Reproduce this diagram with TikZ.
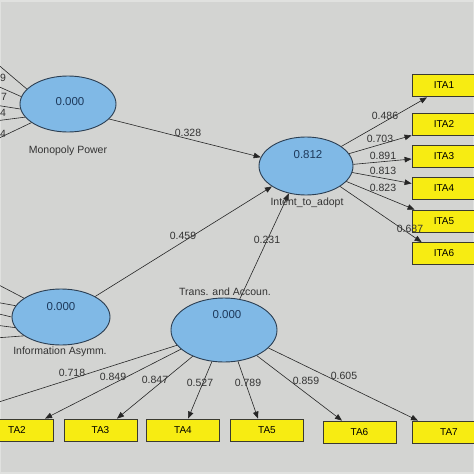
\documentclass[tikz,border=0pt]{standalone}
\usepackage{fontspec}
\setmainfont{Liberation Sans}
\usetikzlibrary{shapes.geometric,arrows.meta,calc}
\definecolor{bg}{HTML}{D3D4D2}
\definecolor{bgedge}{HTML}{E0E1DF}
\definecolor{lvfill}{HTML}{80B9E6}
\definecolor{lvdraw}{HTML}{2B3E52}
\definecolor{boxfill}{HTML}{F7EC12}
\definecolor{boxdraw}{HTML}{3A3A30}
\definecolor{txt}{HTML}{333333}
\definecolor{valtxt}{HTML}{1E3A5C}
\tikzset{
  lv/.style={ellipse, draw=lvdraw, line width=0.9pt, fill=lvfill, inner sep=0pt},
  ind/.style={rectangle, draw=boxdraw, line width=0.8pt, fill=boxfill, minimum width=73pt, minimum height=22pt, inner sep=0pt, text=black, font=\fontsize{10}{12}\selectfont},
  conn/.style={draw=black!85, line width=0.6pt},
  arr/.style={conn, -{Triangle[length=7pt,width=5.5pt]}},
  wt/.style={inner sep=0pt, text=txt, font=\fontsize{10.5}{12}\selectfont},
  lvname/.style={inner sep=0pt, text=txt, font=\fontsize{10.5}{12}\selectfont},
  lvval/.style={inner sep=0pt, text=valtxt, font=\fontsize{11.5}{13}\selectfont}
}
\begin{document}
\begin{tikzpicture}[x=1pt,y=-1pt]
\useasboundingbox (0,0) rectangle (474,474);
\fill[bgedge] (0,0) rectangle (474,474);
\fill[bg] (1,2) rectangle (473,472);
\clip (0,0) rectangle (474,474);

% latent variables
\node[lv, minimum width=96pt, minimum height=56pt] (mp) at (68,104) {};
\node[lv, minimum width=98pt, minimum height=56pt] (ia) at (61,317) {};
\node[lv, minimum width=94pt, minimum height=58pt] (ita) at (306,166) {};
\node[lv, minimum width=106pt, minimum height=64pt] (tac) at (224,330) {};

\node[lvval] (mpv) at (70,102) {0.000};
\node[lvval] (iav) at (61,307) {0.000};
\node[lvval] (itav) at (308,155) {0.812};
\node[lvval] (tacv) at (227,315) {0.000};

\node[lvname] (mpn) at (68,151) {Monopoly Power};
\node[lvname] (ian) at (60,352) {Information Asymm.};
\node[lvname] (itan) at (307,203) {Intent\_to\_adopt};
\node[lvname] (tacn) at (225,292) {Trans. and Accoun.};

% indicator boxes (ITA)
\node[ind, minimum width=64pt] (ita1) at (444,85) {ITA1};
\node[ind, minimum width=64pt] (ita2) at (444,124) {ITA2};
\node[ind, minimum width=64pt] (ita3) at (444,156.5) {ITA3};
\node[ind, minimum width=64pt] (ita4) at (444,188.5) {ITA4};
\node[ind, minimum width=64pt] (ita5) at (444,221) {ITA5};
\node[ind, minimum width=64pt] (ita6) at (444,253.5) {ITA6};

% indicator boxes (TA)
\node[ind] (ta2) at (17,430) {TA2};
\node[ind] (ta3) at (100.5,430) {TA3};
\node[ind] (ta4) at (183,430) {TA4};
\node[ind] (ta5) at (267,430) {TA5};
\node[ind] (ta6) at (359.5,432) {TA6};
\node[ind] (ta7) at (449,432) {TA7};

% off-page ends
\coordinate (mpa) at (-5,62);
\coordinate (mpb) at (-5,85);
\coordinate (mpc) at (-5,105);
\coordinate (mpd) at (-5,121);
\coordinate (mpe) at (-5,140);
\coordinate (iaa) at (-5,283);
\coordinate (iab) at (-5,302);
\coordinate (iac) at (-5,313);
\coordinate (iad) at (-5,325);
\coordinate (iae) at (-5,338);
\coordinate (ta1) at (-20,408);

% Monopoly Power indicators
\draw[conn] (mp.160) -- (mpa);
\draw[conn] (mp.171) -- (mpb);
\draw[conn] (mp.186) -- (mpc);
\draw[conn] (mp.197) -- (mpd);
\draw[conn] (mp.207) -- (mpe);
\node[wt] (w1) at (3,78) {9};
\node[wt] (w2) at (4,97) {7};
\node[wt] (w3) at (3,113) {4};
\node[wt] (w4) at (3,134) {4};

% Information Asymm. indicators
\draw[conn] (ia.153) -- (iaa);
\draw[conn] (ia.166) -- (iab);
\draw[conn] (ia.180) -- (iac);
\draw[conn] (ia.193) -- (iad);
\draw[conn] (ia.207) -- (iae);

% structural paths
\draw[arr] (mp.340) -- (ita.169);
\draw[arr] (ia.31) -- (ita.211);
\draw[arr] (tac.63) -- (ita.238);
\node[wt] (p1) at (188,133) {0.328};
\node[wt] (p2) at (183,236) {0.459};
\node[wt] (p3) at (267,240) {0.231};

% Intent_to_adopt loadings
\draw[arr] (ita.29) -- ($(ita1.south)+(-17,1)$);
\draw[arr] (ita.16) -- (ita2.south west);
\draw[arr] (ita.2) -- ($(ita3.west)+(0,2.5)$);
\draw[arr] (ita.352) -- ($(ita4.west)+(0,-5)$);
\draw[arr] (ita.339) -- ($(ita5.north west)+(3,0)$);
\draw[arr] (ita.329) -- ($(ita6.north west)+(10,0)$);
\node[wt] (l1) at (385,116) {0.486};
\node[wt] (l2) at (380,139) {0.703};
\node[wt] (l3) at (383,156) {0.891};
\node[wt] (l4) at (383,171) {0.813};
\node[wt] (l5) at (383,188) {0.823};
\node[wt] (l6) at (410,229) {0.687};

% Trans. and Accoun. loadings
\draw[conn] (tac.198) -- (ta1);
\draw[arr] (tac.204) -- ($(ta2.north)+(28,0)$);
\draw[arr] (tac.220) -- ($(ta3.north)+(16.5,0)$);
\draw[arr] (tac.249) -- ($(ta4.north)+(5,0)$);
\draw[arr] (tac.294) -- ($(ta5.north)+(-9,0)$);
\draw[arr] (tac.322) -- ($(ta6.north)+(-17.5,0)$);
\draw[arr] (tac.338) -- ($(ta7.north)+(-31,0)$);
\node[wt] (t1) at (72,373) {0.718};
\node[wt] (t2) at (113,377) {0.849};
\node[wt] (t3) at (155,380) {0.847};
\node[wt] (t4) at (200,383) {0.527};
\node[wt] (t5) at (248,383) {0.789};
\node[wt] (t6) at (306,381) {0.859};
\node[wt] (t7) at (344,376) {0.605};
\end{tikzpicture}
\end{document}
